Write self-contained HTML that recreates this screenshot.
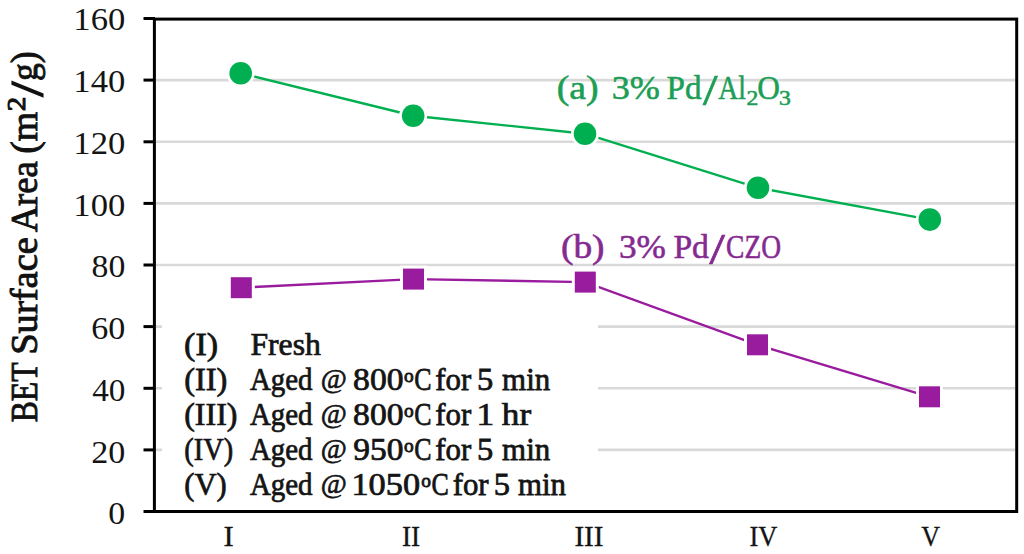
<!DOCTYPE html><html><head><meta charset="utf-8"><style>html,body{margin:0;padding:0;background:#fff;width:1024px;height:554px;overflow:hidden}svg{display:block}text{font-family:"Liberation Serif",serif}</style></head><body>
<svg width="1024" height="554" viewBox="0 0 1024 554">
<rect width="1024" height="554" fill="#fff"/>
<line x1="156" y1="449.9" x2="1015" y2="449.9" stroke="#D9D9D9" stroke-width="2.6"/>
<line x1="156" y1="388.3" x2="1015" y2="388.3" stroke="#D9D9D9" stroke-width="2.6"/>
<line x1="156" y1="326.6" x2="1015" y2="326.6" stroke="#D9D9D9" stroke-width="2.6"/>
<line x1="156" y1="265.0" x2="1015" y2="265.0" stroke="#D9D9D9" stroke-width="2.6"/>
<line x1="156" y1="203.4" x2="1015" y2="203.4" stroke="#D9D9D9" stroke-width="2.6"/>
<line x1="156" y1="141.8" x2="1015" y2="141.8" stroke="#D9D9D9" stroke-width="2.6"/>
<line x1="156" y1="80.1" x2="1015" y2="80.1" stroke="#D9D9D9" stroke-width="2.6"/>
<rect x="162" y="300" width="436" height="205" fill="#fff"/>
<rect x="154.4" y="19.1" width="862.3" height="492.4" fill="none" stroke="#000" stroke-width="3"/>
<line x1="143.5" y1="511.5" x2="155" y2="511.5" stroke="#000" stroke-width="3"/>
<line x1="143.5" y1="449.9" x2="155" y2="449.9" stroke="#000" stroke-width="3"/>
<line x1="143.5" y1="388.3" x2="155" y2="388.3" stroke="#000" stroke-width="3"/>
<line x1="143.5" y1="326.6" x2="155" y2="326.6" stroke="#000" stroke-width="3"/>
<line x1="143.5" y1="265.0" x2="155" y2="265.0" stroke="#000" stroke-width="3"/>
<line x1="143.5" y1="203.4" x2="155" y2="203.4" stroke="#000" stroke-width="3"/>
<line x1="143.5" y1="141.8" x2="155" y2="141.8" stroke="#000" stroke-width="3"/>
<line x1="143.5" y1="80.1" x2="155" y2="80.1" stroke="#000" stroke-width="3"/>
<line x1="143.5" y1="18.5" x2="155" y2="18.5" stroke="#000" stroke-width="3"/>
<polyline points="240.7,73.2 413.2,115.7 585,133.7 758,187.8 929.8,219.6" fill="none" stroke="#00B050" stroke-width="2.4"/>
<polyline points="241.3,287.7 413.5,279.1 585.3,282.1 757.5,344.8 929.5,396.8" fill="none" stroke="#9A1C9E" stroke-width="2.4"/>
<circle cx="240.7" cy="73.2" r="14" fill="#fff"/><circle cx="240.7" cy="73.2" r="11.3" fill="#00B050"/>
<circle cx="413.2" cy="115.7" r="14" fill="#fff"/><circle cx="413.2" cy="115.7" r="11.3" fill="#00B050"/>
<circle cx="585" cy="133.7" r="14" fill="#fff"/><circle cx="585" cy="133.7" r="11.3" fill="#00B050"/>
<circle cx="758" cy="187.8" r="14" fill="#fff"/><circle cx="758" cy="187.8" r="11.3" fill="#00B050"/>
<circle cx="929.8" cy="219.6" r="14" fill="#fff"/><circle cx="929.8" cy="219.6" r="11.3" fill="#00B050"/>
<rect x="227.8" y="274.2" width="27" height="27" fill="#fff"/><rect x="230.8" y="277.2" width="21" height="21" fill="#9A1C9E"/>
<rect x="400.0" y="265.6" width="27" height="27" fill="#fff"/><rect x="403.0" y="268.6" width="21" height="21" fill="#9A1C9E"/>
<rect x="571.8" y="268.6" width="27" height="27" fill="#fff"/><rect x="574.8" y="271.6" width="21" height="21" fill="#9A1C9E"/>
<rect x="744.0" y="331.3" width="27" height="27" fill="#fff"/><rect x="747.0" y="334.3" width="21" height="21" fill="#9A1C9E"/>
<rect x="916.0" y="383.3" width="27" height="27" fill="#fff"/><rect x="919.0" y="386.3" width="21" height="21" fill="#9A1C9E"/>
<text transform="translate(184.11,355.00) scale(1.0598,1.0000)" font-size="32.15" font-weight="normal" fill="#141414" stroke="#141414" stroke-width="0.75">(I)</text>
<text transform="translate(184.19,390.10) scale(1.0100,1.0000)" font-size="32.15" font-weight="normal" fill="#141414" stroke="#141414" stroke-width="0.75">(II)</text>
<text transform="translate(184.21,425.20) scale(0.9941,1.0000)" font-size="32.15" font-weight="normal" fill="#141414" stroke="#141414" stroke-width="0.75">(III)</text>
<text transform="translate(184.37,460.30) scale(0.8838,1.0000)" font-size="32.15" font-weight="normal" fill="#141414" stroke="#141414" stroke-width="0.75">(IV)</text>
<text transform="translate(184.27,495.40) scale(0.9533,1.0000)" font-size="32.15" font-weight="normal" fill="#141414" stroke="#141414" stroke-width="0.75">(V)</text>
<text transform="translate(250.41,355.00) scale(0.9857,1.0000)" font-size="32.15" font-weight="normal" fill="#141414" stroke="#141414" stroke-width="0.75">Fresh</text>
<text transform="translate(249.88,390.10) scale(0.9000,1.0000)" font-size="32.15" font-weight="normal" fill="#141414" stroke="#141414" stroke-width="0.75">Aged</text>
<text transform="translate(320.76,387.70) scale(0.8800,0.8324)" font-size="32.15" font-weight="normal" fill="#141414" stroke="#141414" stroke-width="0.75">@</text>
<text transform="translate(353.09,390.10) scale(1.0470,1.0000)" font-size="32.15" font-weight="normal" fill="#141414" stroke="#141414" stroke-width="0.75">800</text>
<text transform="translate(403.88,381.50) scale(1.0933,1.0909)" font-size="17.68" font-weight="normal" fill="#141414" stroke="#141414" stroke-width="0.75">o</text>
<text transform="translate(414.19,390.10) scale(0.8054,1.0000)" font-size="32.15" font-weight="normal" fill="#141414" stroke="#141414" stroke-width="0.75">C</text>
<text transform="translate(435.34,390.10) scale(0.9600,1.0000)" font-size="32.15" font-weight="normal" fill="#141414" stroke="#141414" stroke-width="0.75">for</text>
<text transform="translate(477.08,390.10) scale(1.0118,1.0000)" font-size="32.15" font-weight="normal" fill="#141414" stroke="#141414" stroke-width="0.75">5</text>
<text transform="translate(502.08,390.10) scale(0.9621,1.0000)" font-size="32.15" font-weight="normal" fill="#141414" stroke="#141414" stroke-width="0.75">min</text>
<text transform="translate(249.88,425.20) scale(0.9000,1.0000)" font-size="32.15" font-weight="normal" fill="#141414" stroke="#141414" stroke-width="0.75">Aged</text>
<text transform="translate(320.76,422.80) scale(0.8800,0.8324)" font-size="32.15" font-weight="normal" fill="#141414" stroke="#141414" stroke-width="0.75">@</text>
<text transform="translate(353.09,425.20) scale(1.0470,1.0000)" font-size="32.15" font-weight="normal" fill="#141414" stroke="#141414" stroke-width="0.75">800</text>
<text transform="translate(403.88,416.60) scale(1.0933,1.0909)" font-size="17.68" font-weight="normal" fill="#141414" stroke="#141414" stroke-width="0.75">o</text>
<text transform="translate(414.19,425.20) scale(0.8054,1.0000)" font-size="32.15" font-weight="normal" fill="#141414" stroke="#141414" stroke-width="0.75">C</text>
<text transform="translate(435.34,425.20) scale(0.9600,1.0000)" font-size="32.15" font-weight="normal" fill="#141414" stroke="#141414" stroke-width="0.75">for</text>
<text transform="translate(476.59,425.20) scale(1.0957,1.0000)" font-size="32.15" font-weight="normal" fill="#141414" stroke="#141414" stroke-width="0.75">1</text>
<text transform="translate(501.83,425.20) scale(1.0933,1.0000)" font-size="32.15" font-weight="normal" fill="#141414" stroke="#141414" stroke-width="0.75">hr</text>
<text transform="translate(249.88,460.30) scale(0.9000,1.0000)" font-size="32.15" font-weight="normal" fill="#141414" stroke="#141414" stroke-width="0.75">Aged</text>
<text transform="translate(320.76,457.90) scale(0.8800,0.8324)" font-size="32.15" font-weight="normal" fill="#141414" stroke="#141414" stroke-width="0.75">@</text>
<text transform="translate(353.36,460.30) scale(1.0413,1.0000)" font-size="32.15" font-weight="normal" fill="#141414" stroke="#141414" stroke-width="0.75">950</text>
<text transform="translate(403.88,451.70) scale(1.0933,1.0909)" font-size="17.68" font-weight="normal" fill="#141414" stroke="#141414" stroke-width="0.75">o</text>
<text transform="translate(414.19,460.30) scale(0.8054,1.0000)" font-size="32.15" font-weight="normal" fill="#141414" stroke="#141414" stroke-width="0.75">C</text>
<text transform="translate(435.34,460.30) scale(0.9600,1.0000)" font-size="32.15" font-weight="normal" fill="#141414" stroke="#141414" stroke-width="0.75">for</text>
<text transform="translate(477.08,460.30) scale(1.0118,1.0000)" font-size="32.15" font-weight="normal" fill="#141414" stroke="#141414" stroke-width="0.75">5</text>
<text transform="translate(502.08,460.30) scale(0.9621,1.0000)" font-size="32.15" font-weight="normal" fill="#141414" stroke="#141414" stroke-width="0.75">min</text>
<text transform="translate(249.88,495.40) scale(0.9000,1.0000)" font-size="32.15" font-weight="normal" fill="#141414" stroke="#141414" stroke-width="0.75">Aged</text>
<text transform="translate(320.76,493.00) scale(0.8800,0.8324)" font-size="32.15" font-weight="normal" fill="#141414" stroke="#141414" stroke-width="0.75">@</text>
<text transform="translate(351.47,495.40) scale(1.0672,1.0000)" font-size="32.15" font-weight="normal" fill="#141414" stroke="#141414" stroke-width="0.75">1050</text>
<text transform="translate(421.18,486.80) scale(1.0933,1.0909)" font-size="17.68" font-weight="normal" fill="#141414" stroke="#141414" stroke-width="0.75">o</text>
<text transform="translate(431.49,495.40) scale(0.8054,1.0000)" font-size="32.15" font-weight="normal" fill="#141414" stroke="#141414" stroke-width="0.75">C</text>
<text transform="translate(452.64,495.40) scale(0.9600,1.0000)" font-size="32.15" font-weight="normal" fill="#141414" stroke="#141414" stroke-width="0.75">for</text>
<text transform="translate(493.68,495.40) scale(1.0118,1.0000)" font-size="32.15" font-weight="normal" fill="#141414" stroke="#141414" stroke-width="0.75">5</text>
<text transform="translate(517.88,495.40) scale(0.9600,1.0000)" font-size="32.15" font-weight="normal" fill="#141414" stroke="#141414" stroke-width="0.75">min</text>
<text transform="translate(556.64,99.30) scale(1.1057,1.0000)" font-size="34.15" font-weight="normal" fill="#1C9E55" stroke="#1C9E55" stroke-width="0.55">(a)</text>
<text transform="translate(611.65,99.30) scale(1.0588,1.0000)" font-size="34.15" font-weight="normal" fill="#1C9E55" stroke="#1C9E55" stroke-width="0.55">3%</text>
<text transform="translate(666.53,99.30) scale(0.9727,1.0000)" font-size="34.15" font-weight="normal" fill="#1C9E55" stroke="#1C9E55" stroke-width="0.55">Pd</text>
<text transform="translate(703.10,104.98) scale(1.5263,1.2957)" font-size="34.15" font-weight="normal" fill="#1C9E55" stroke="#1C9E55" stroke-width="0.55">/</text>
<text transform="translate(718.20,99.30) scale(0.8090,1.0000)" font-size="34.15" font-weight="normal" fill="#1C9E55" stroke="#1C9E55" stroke-width="0.55">Al</text>
<text transform="translate(746.62,104.80) scale(1.1200,1.0000)" font-size="21.18" font-weight="normal" fill="#1C9E55" stroke="#1C9E55" stroke-width="0.55">2</text>
<text transform="translate(757.32,99.30) scale(0.9200,1.0000)" font-size="34.15" font-weight="normal" fill="#1C9E55" stroke="#1C9E55" stroke-width="0.55">O</text>
<text transform="translate(778.88,104.80) scale(1.1200,1.0000)" font-size="21.18" font-weight="normal" fill="#1C9E55" stroke="#1C9E55" stroke-width="0.55">3</text>
<text transform="translate(560.92,258.10) scale(1.1222,1.0000)" font-size="33.38" font-weight="normal" fill="#852A90" stroke="#852A90" stroke-width="0.55">(b)</text>
<text transform="translate(619.02,258.10) scale(1.0539,1.0000)" font-size="33.38" font-weight="normal" fill="#852A90" stroke="#852A90" stroke-width="0.55">3%</text>
<text transform="translate(673.39,258.10) scale(1.0074,1.0000)" font-size="33.38" font-weight="normal" fill="#852A90" stroke="#852A90" stroke-width="0.55">Pd</text>
<text transform="translate(709.50,264.26) scale(1.6541,1.3438)" font-size="33.38" font-weight="normal" fill="#852A90" stroke="#852A90" stroke-width="0.55">/</text>
<text transform="translate(726.07,258.10) scale(0.8234,1.0000)" font-size="33.38" font-weight="normal" fill="#852A90" stroke="#852A90" stroke-width="0.55">CZO</text>
<text transform="translate(36.90,422.36) rotate(-90) scale(0.8601,1.0000)" font-size="36.92" font-weight="normal" fill="#111" stroke="#111" stroke-width="0.9">BET</text>
<text transform="translate(36.90,354.81) rotate(-90) scale(1.0440,1.0000)" font-size="36.92" font-weight="normal" fill="#111" stroke="#111" stroke-width="0.9">Surface</text>
<text transform="translate(36.90,232.35) rotate(-90) scale(0.9915,1.0000)" font-size="36.92" font-weight="normal" fill="#111" stroke="#111" stroke-width="0.9">Area</text>
<text transform="translate(36.90,153.78) rotate(-90) scale(1.0194,1.0000)" font-size="36.92" font-weight="normal" fill="#111" stroke="#111" stroke-width="0.9">(m</text>
<text transform="translate(24.92,111.30) rotate(-90) scale(1.3029,1.1119)" font-size="22.15" font-weight="normal" fill="#111" stroke="#111" stroke-width="0.9">2</text>
<text transform="translate(43.28,96.70) rotate(-90) scale(1.4829,1.2768)" font-size="36.92" font-weight="normal" fill="#111" stroke="#111" stroke-width="0.9">/</text>
<text transform="translate(36.90,81.05) rotate(-90) scale(0.9636,1.0000)" font-size="36.92" font-weight="normal" fill="#111" stroke="#111" stroke-width="0.9">g)</text>
<text transform="translate(108.29,524.40) scale(1.0473,1.0000)" font-size="32.31" font-weight="normal" fill="#141414">0</text>
<text transform="translate(91.32,462.65) scale(1.0542,1.0000)" font-size="32.31" font-weight="normal" fill="#141414">20</text>
<text transform="translate(92.13,400.90) scale(1.0281,1.0000)" font-size="32.31" font-weight="normal" fill="#141414">40</text>
<text transform="translate(91.32,339.16) scale(1.0542,1.0000)" font-size="32.31" font-weight="normal" fill="#141414">60</text>
<text transform="translate(91.59,277.41) scale(1.0454,1.0000)" font-size="32.31" font-weight="normal" fill="#141414">80</text>
<text transform="translate(73.35,215.66) scale(1.0719,1.0000)" font-size="32.31" font-weight="normal" fill="#141414">100</text>
<text transform="translate(73.35,153.91) scale(1.0719,1.0000)" font-size="32.31" font-weight="normal" fill="#141414">120</text>
<text transform="translate(73.35,92.16) scale(1.0719,1.0000)" font-size="32.31" font-weight="normal" fill="#141414">140</text>
<text transform="translate(73.35,30.42) scale(1.0719,1.0000)" font-size="32.31" font-weight="normal" fill="#141414">160</text>
<text transform="translate(223.39,546.30) scale(1.0125,1.0000)" font-size="30.31" font-weight="normal" fill="#141414" stroke="#141414" stroke-width="0.3">I</text>
<text transform="translate(402.00,546.30) scale(0.9000,1.0000)" font-size="30.31" font-weight="normal" fill="#141414" stroke="#141414" stroke-width="0.3">II</text>
<text transform="translate(574.44,546.30) scale(0.9593,1.0000)" font-size="30.31" font-weight="normal" fill="#141414" stroke="#141414" stroke-width="0.3">III</text>
<text transform="translate(749.52,546.30) scale(0.8754,1.0000)" font-size="30.31" font-weight="normal" fill="#141414" stroke="#141414" stroke-width="0.3">IV</text>
<text transform="translate(921.18,546.30) scale(0.8612,1.0000)" font-size="30.31" font-weight="normal" fill="#141414" stroke="#141414" stroke-width="0.3">V</text>
</svg></body></html>
